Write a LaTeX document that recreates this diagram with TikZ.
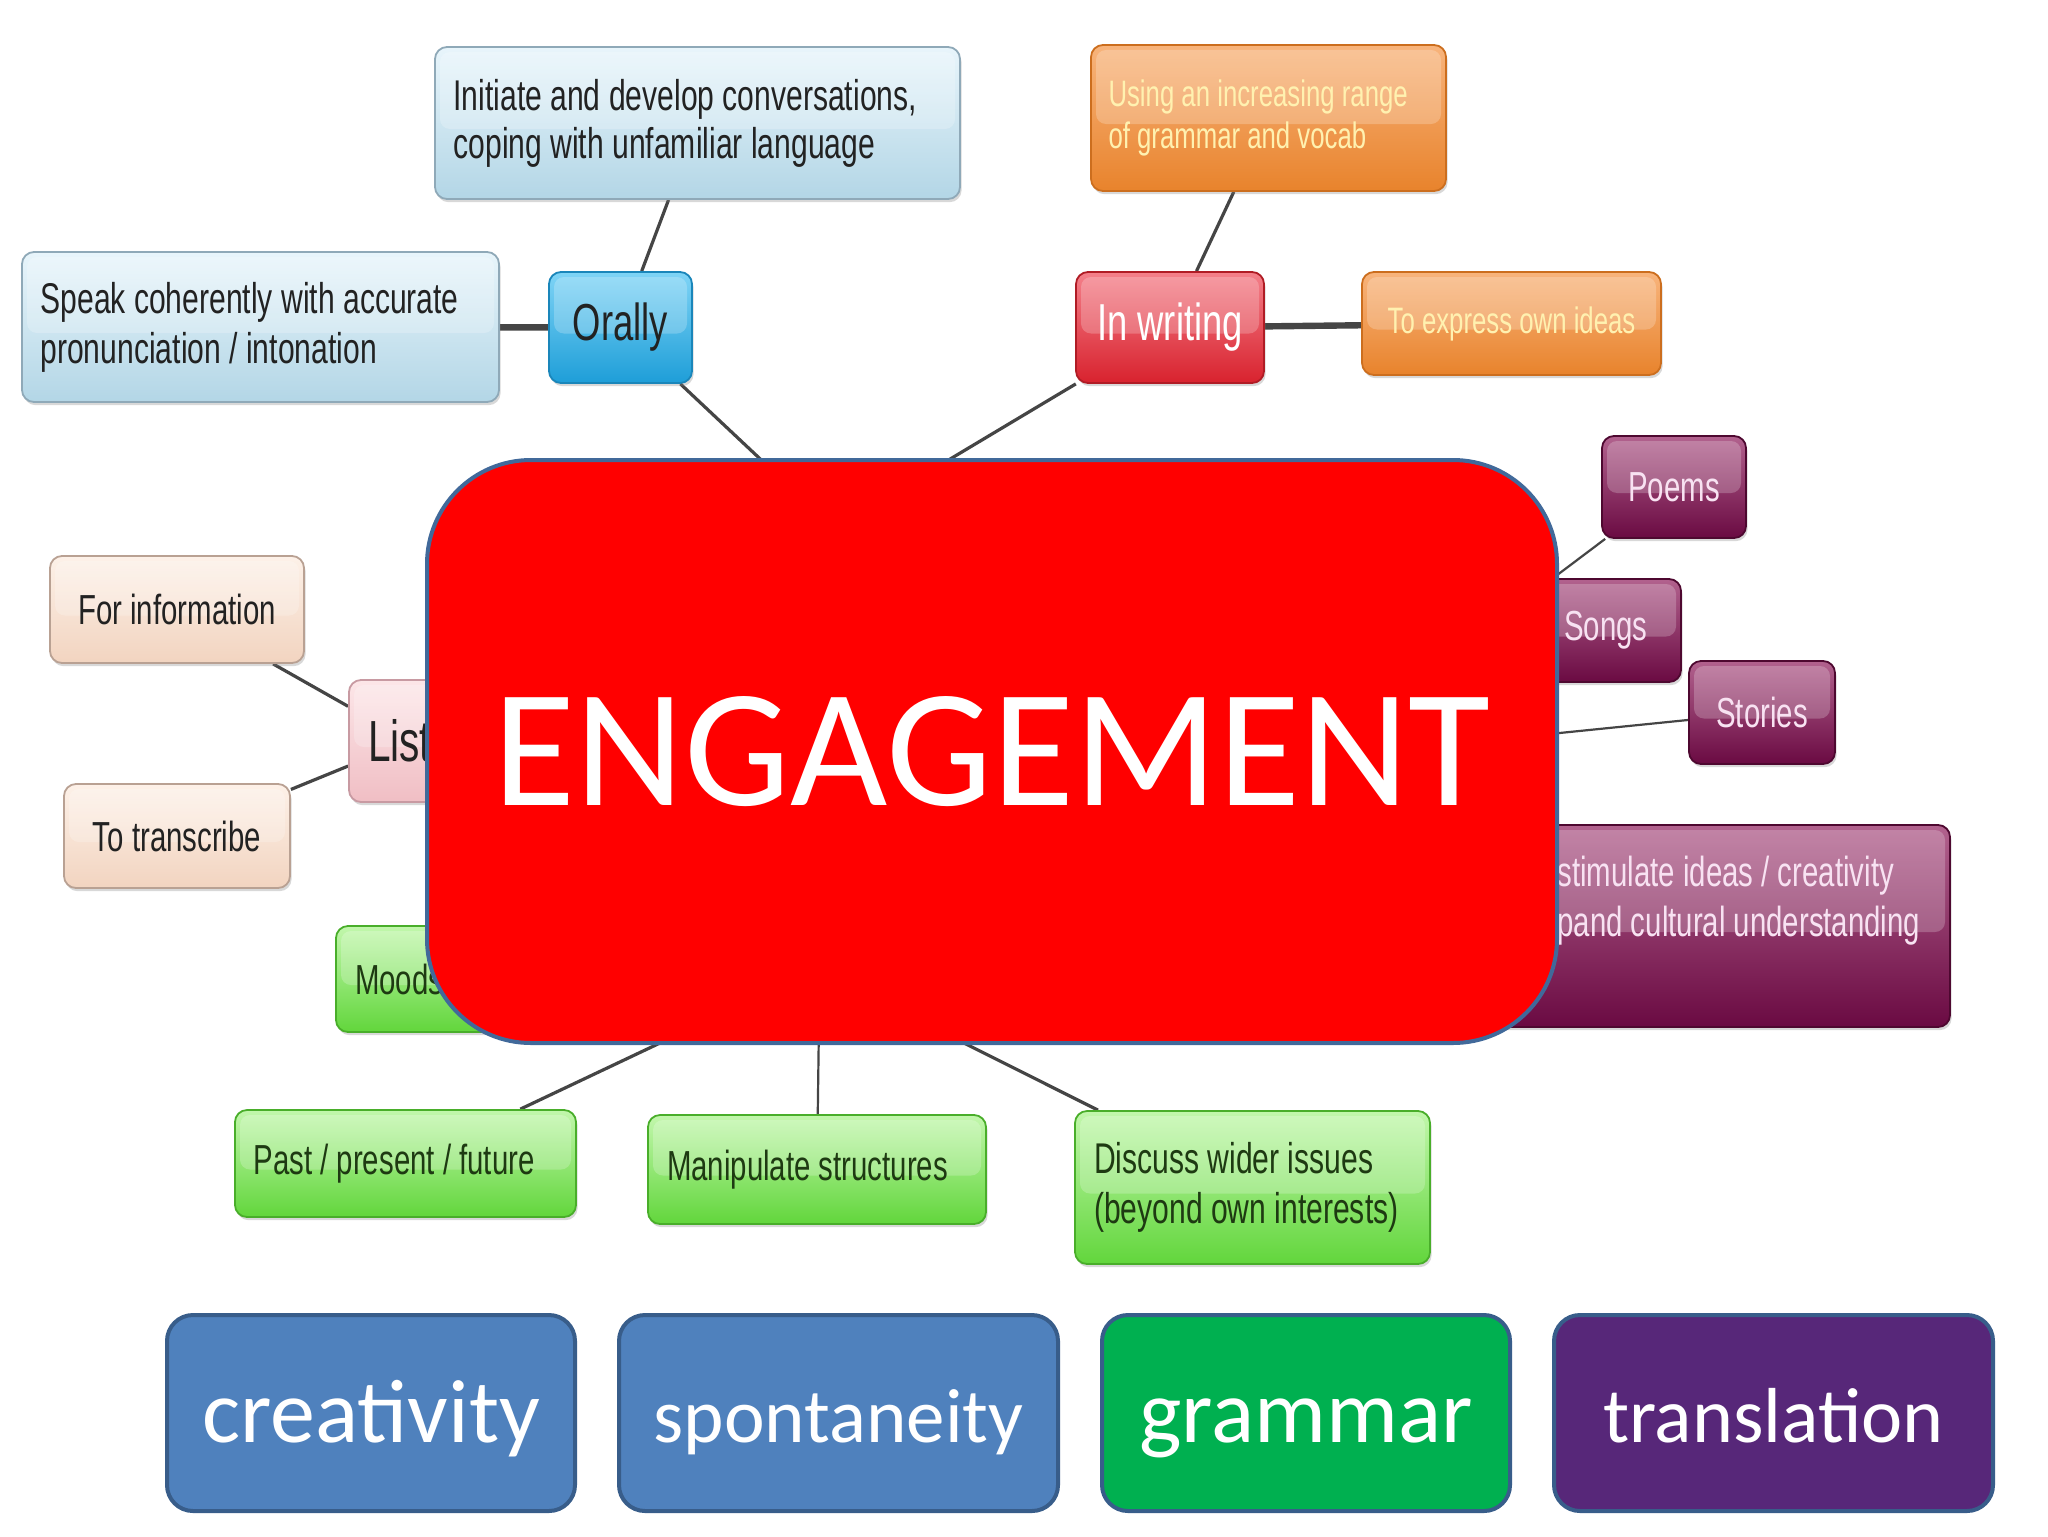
\documentclass[tikz,border=0pt]{standalone}
\usepackage{fontspec}
\setmainfont{Carlito}
\newfontfamily\mapfont[FakeStretch=0.7]{Liberation Sans}
\usetikzlibrary{shadows}
\pgfdeclarelayer{back}
\pgfdeclarelayer{bg}
\pgfsetlayers{back,bg,main}
\definecolor{lbT}{HTML}{E8F5FB}
\definecolor{lbD}{HTML}{B3D6E6}
\definecolor{lbB}{HTML}{8FA9B8}
\definecolor{orT}{HTML}{7FD4F6}
\definecolor{orD}{HTML}{1E9ED8}
\definecolor{orB}{HTML}{1A86BA}
\definecolor{ogT}{HTML}{F8B47C}
\definecolor{ogD}{HTML}{E8832C}
\definecolor{ogB}{HTML}{CC6E1E}
\definecolor{ogX}{HTML}{FFF1B0}
\definecolor{rdT}{HTML}{F4808A}
\definecolor{rdD}{HTML}{D8222E}
\definecolor{rdB}{HTML}{B01C25}
\definecolor{mgT}{HTML}{B2628E}
\definecolor{mgD}{HTML}{6A0A42}
\definecolor{mgB}{HTML}{4E0830}
\definecolor{mgX}{HTML}{F8E2F2}
\definecolor{peT}{HTML}{FDF1E8}
\definecolor{peD}{HTML}{F2D4C0}
\definecolor{peB}{HTML}{B9A193}
\definecolor{piT}{HTML}{FCE6E8}
\definecolor{piD}{HTML}{F0BEC4}
\definecolor{piB}{HTML}{C89AA2}
\definecolor{gnT}{HTML}{C2F7AC}
\definecolor{gnD}{HTML}{62D63C}
\definecolor{gnB}{HTML}{49AE2A}
\definecolor{gnX}{HTML}{1E3A12}
\definecolor{txd}{HTML}{222222}
\definecolor{conn}{HTML}{454545}
\definecolor{engB}{HTML}{41699A}
\definecolor{botB}{HTML}{385D8A}
\definecolor{botBlue}{HTML}{4F81BD}
\definecolor{botGreen}{HTML}{00B050}
\definecolor{botPurple}{HTML}{572779}
\tikzset{
  mm/.style={rounded corners=6pt, line width=0.9pt, inner sep=0pt,
    drop shadow={shadow xshift=0.8pt, shadow yshift=-1.6pt, opacity=0.3},
    path picture={\fill[white, opacity=0.22, rounded corners=5pt]
      ([xshift=2.5pt,yshift=-2.5pt]path picture bounding box.north west) rectangle
      ([xshift=-2.5pt,yshift=-3pt]path picture bounding box.east);}},
  lblue/.style={mm, draw=lbB, top color=lbT, bottom color=lbD, text=txd},
  obox/.style={mm, draw=orB, top color=orT, bottom color=orD, text=txd},
  orange/.style={mm, draw=ogB, top color=ogT, bottom color=ogD, text=ogX},
  redbox/.style={mm, draw=rdB, top color=rdT, bottom color=rdD, text=white},
  magenta/.style={mm, draw=mgB, top color=mgT, bottom color=mgD, text=mgX},
  peach/.style={mm, draw=peB, top color=peT, bottom color=peD, text=txd},
  pink/.style={mm, draw=piB, top color=piT, bottom color=piD, text=txd},
  green/.style={mm, draw=gnB, top color=gnT, bottom color=gnD, text=gnX},
  fa/.style={font=\mapfont\fontsize{21.5pt}{24pt}\selectfont},
  fb/.style={font=\mapfont\fontsize{18.4pt}{21pt}\selectfont},
  fc/.style={font=\mapfont\fontsize{21pt}{25pt}\selectfont},
  fbig/.style={font=\mapfont\fontsize{26pt}{30pt}\selectfont},
  link/.style={draw=conn, line width=1.6pt},
  thinlink/.style={draw=conn, line width=1.1pt},
  thicklink/.style={draw=conn, line width=3.2pt},
  bottombox/.style={draw=botB, line width=2pt, rounded corners=13pt,
    minimum height=98pt, inner sep=0pt, text=white, text height=40pt, text depth=11pt}
}
\begin{document}
\begin{tikzpicture}[x=0.5pt,y=-0.5pt]
\begin{pgfonlayer}{back}
\fill[white] (0,0) rectangle (2048,1536);
\end{pgfonlayer}
\useasboundingbox (0,0) rectangle (2048,1536);

% ---- top-left: orally
\node[lblue, fa, minimum width=262.5pt, minimum height=76pt, text width=244pt, align=flush left]
  (init) at (697.5,123) {Initiate and develop conversations,\\coping with unfamiliar language};
\node[lblue, minimum width=238.5pt, minimum height=75pt, text width=220pt, align=flush left, font=\mapfont\fontsize{21.5pt}{25pt}\selectfont]
  (speak) at (260.5,327) {Speak coherently with accurate\\pronunciation / intonation};
\node[obox, fbig, minimum width=71.5pt, minimum height=55.5pt] (orally) at (620.5,327.5) {Orally};

% ---- top-right: in writing
\node[orange, fb, minimum width=177.5pt, minimum height=73pt, text width=160pt, align=flush left]
  (using) at (1268.5,118) {Using an increasing range\\of grammar and vocab};
\node[redbox, fbig, minimum width=94pt, minimum height=55.5pt] (writing) at (1170,327.5) {In writing};
\node[orange, fb, minimum width=149.5pt, minimum height=51.5pt] (express) at (1511.5,323.5) {To express own ideas};

% ---- right: magenta
\node[magenta, fc, minimum width=72pt, minimum height=51pt] (poems) at (1674,487) {Poems};
\node[magenta, fc, minimum width=75pt, minimum height=51.5pt] (songs) at (1606,630.5) {Songs};
\node[magenta, fc, minimum width=73pt, minimum height=51.5pt] (stories) at (1762,712.5) {Stories};
\node[magenta, minimum width=255pt, minimum height=101pt] (purple) at (1695,926) {};
\node[anchor=west, inner sep=0pt, text=mgX, align=flush left, font=\mapfont\fontsize{21pt}{25pt}\selectfont]
  (purpletxt) at (1557,901) {stimulate ideas / creativity\\pand cultural understanding};

% ---- left: listening
\node[peach, fc, minimum width=127pt, minimum height=53.5pt] (info) at (177,609.5) {For information};
\node[peach, fc, minimum width=113pt, minimum height=52pt] (transcribe) at (177,836) {To transcribe};
\node[pink, minimum width=60.5pt, minimum height=61pt, text width=41.5pt, align=flush left,
  font=\mapfont\fontsize{29pt}{32pt}\selectfont] (list) at (409.5,741) {List};
\node[green, fc, minimum width=82pt, minimum height=53pt, text width=63pt, align=flush left] (moods) at (418,979) {Moods};

% ---- bottom: green
\node[green, fc, minimum width=170.5pt, minimum height=53.5pt, text width=152pt, align=flush left]
  (past) at (405.5,1163.5) {Past / present / future};
\node[green, fc, minimum width=169pt, minimum height=54.5pt, text width=150pt, align=flush left]
  (manip) at (817,1169.5) {Manipulate structures};
\node[green, minimum width=177.5pt, minimum height=76.5pt, text width=158.5pt, align=flush left,
  font=\mapfont\fontsize{21.5pt}{25pt}\selectfont]
  (discuss) at (1252.5,1187.5) {Discuss wider issues\\(beyond own interests)};

% ---- hidden connector ends (behind the central box)
\coordinate (eOrally) at (790,487);
\coordinate (eWriting) at (905,486);
\coordinate (ePoems) at (1528,597);
\coordinate (eStories) at (1520,737);
\coordinate (ePast) at (698,1025);
\coordinate (eManip) at (819,1020);
\coordinate (eDiscuss) at (920,1021);

% ---- central box
\node[draw=engB, line width=2pt, fill=red, rounded corners=52pt, minimum width=565pt,
  minimum height=291.5pt, text=white, font=\fontsize{84pt}{90pt}\selectfont]
  (eng) at (992,751.5) {ENGAGEMENT};

% ---- bottom keywords
\node[bottombox, fill=botBlue, minimum width=204pt, font=\fontsize{45pt}{50pt}\selectfont] (kcre) at (371,1413) {creativity};
\node[bottombox, fill=botBlue, minimum width=219.5pt, font=\fontsize{38.5pt}{44pt}\selectfont] (kspo) at (838.5,1413) {spontaneity};
\node[bottombox, fill=botGreen, minimum width=204pt, font=\fontsize{45pt}{50pt}\selectfont] (kgra) at (1306,1413) {grammar};
\node[bottombox, fill=botPurple, minimum width=219.5pt, font=\fontsize{39pt}{44pt}\selectfont] (ktra) at (1773.5,1413) {translation};

% ---- connectors
\begin{pgfonlayer}{bg}
\draw[link] (init) -- (orally);
\draw[thicklink] (speak) -- (orally);
\draw[link] (orally) -- (eOrally);
\draw[link] (using) -- (writing);
\draw[thicklink] (writing) -- (express);
\draw[link] (writing) -- (eWriting);
\draw[thinlink] (poems) -- (ePoems);
\draw[thinlink] (stories) -- (eStories);
\draw[link] (info) -- (list);
\draw[link] (transcribe) -- (list);
\draw[link] (past) -- (ePast);
\draw[thinlink] (manip) -- (eManip);
\draw[link] (discuss) -- (eDiscuss);
\end{pgfonlayer}
\end{tikzpicture}
\end{document}
